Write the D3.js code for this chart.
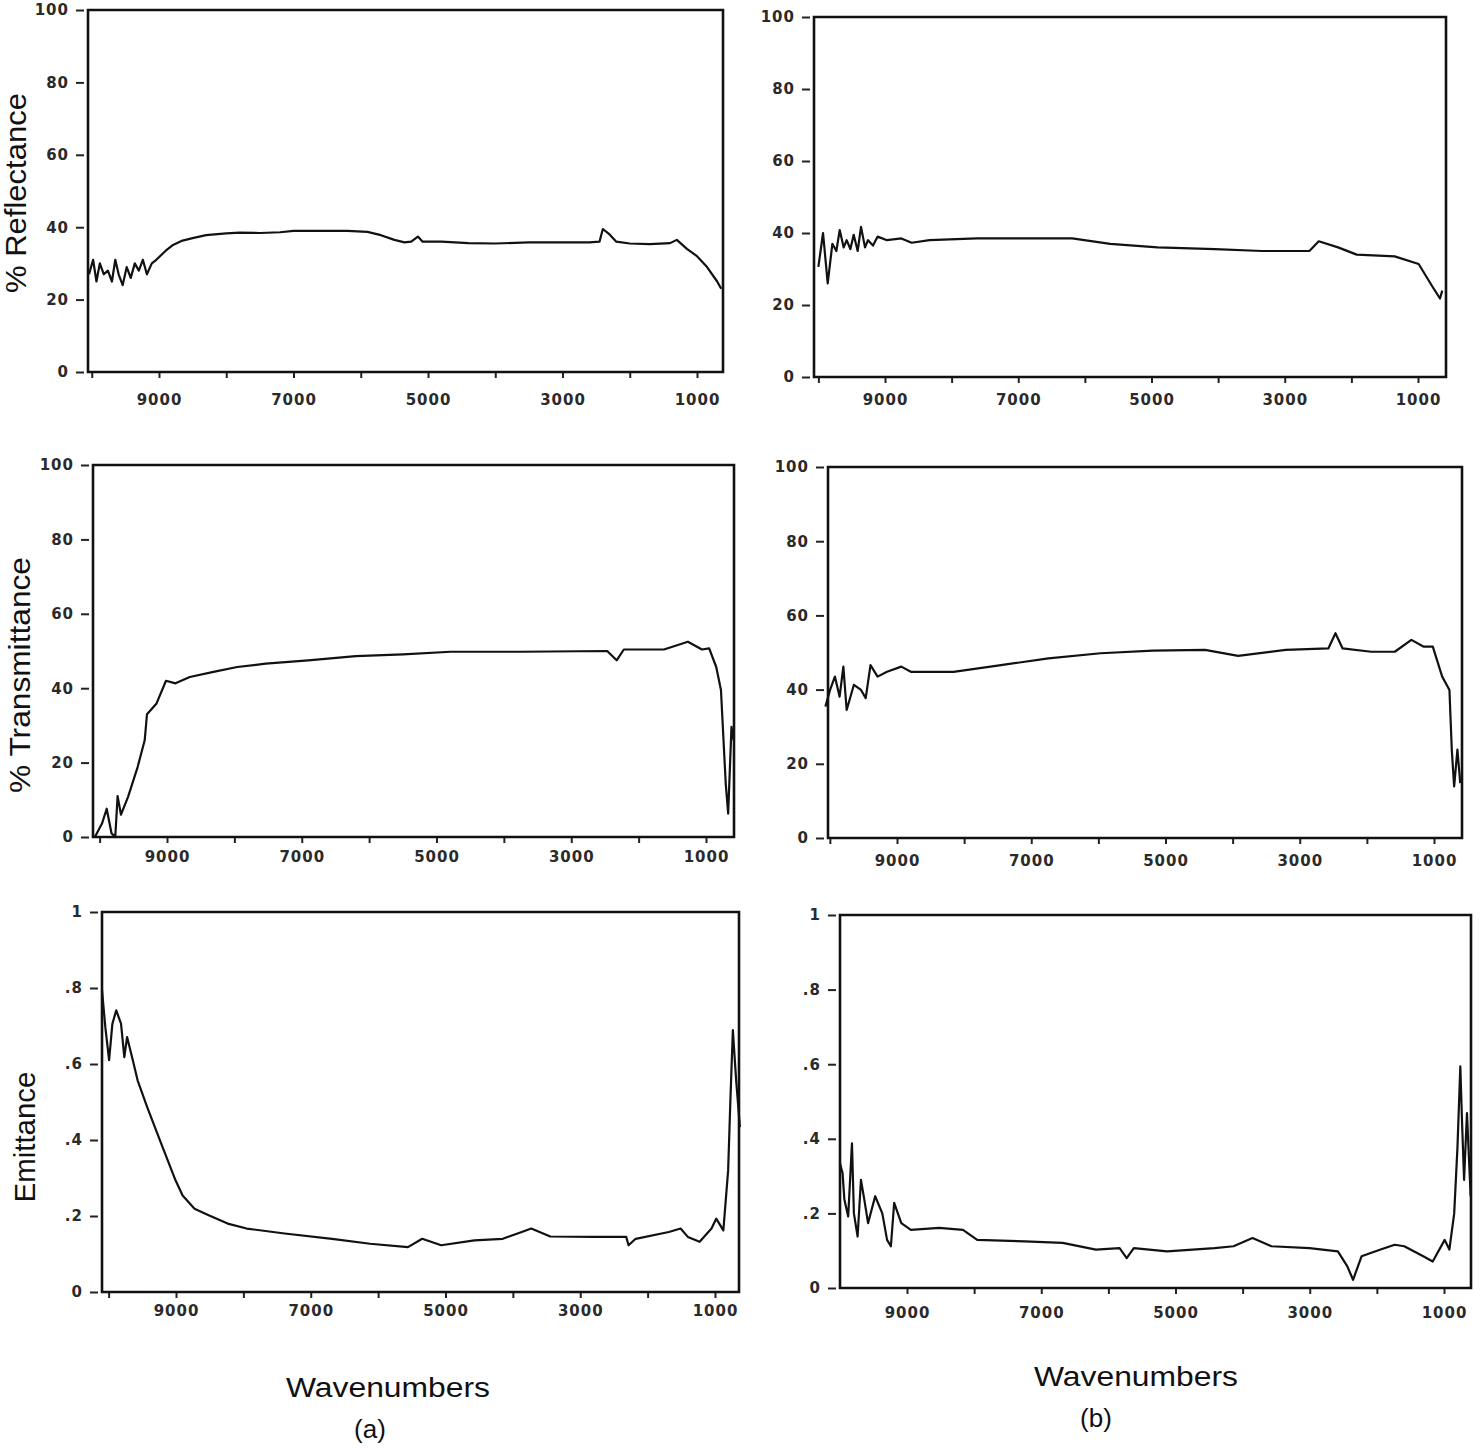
<!DOCTYPE html>
<html>
<head>
<meta charset="utf-8">
<script src="https://cdn.jsdelivr.net/npm/d3@7"></script>
<style>
  body { margin: 0; background: #fff; }
  svg { display: block; }
  .tick text { font-family: "DejaVu Sans", sans-serif; font-weight: bold; font-size: 15px; fill: #2a2a2a; letter-spacing: 1px; }
  .tick line { stroke: #222; stroke-width: 2; }
  .title { font-family: "Liberation Sans", Arial, sans-serif; fill: #111; }
</style>
</head>
<body>
<svg id="chart" width="1480" height="1448"></svg>
<script>
// ----------------------------------------------
// data: [wavenumber (cm-1), value]
// ----------------------------------------------
const xTickValues = [10000, 9000, 8000, 7000, 6000, 5000, 4000, 3000, 2000, 1000];
const xTickLabels = [9000, 7000, 5000, 3000, 1000];
const pctTicks = [0, 20, 40, 60, 80, 100];
const emitTicks = [0, 0.2, 0.4, 0.6, 0.8, 1];

const reflectanceA = [
  [10040, 27], [9980, 31], [9930, 25], [9880, 30], [9820, 27], [9760, 28], [9700, 25],
  [9650, 31], [9600, 27], [9540, 24], [9480, 29], [9420, 26], [9360, 30], [9300, 28],
  [9240, 31], [9180, 27], [9107, 30], [9040, 31], [8900, 33.5], [8800, 35], [8650, 36.3],
  [8500, 37], [8300, 37.8], [8000, 38.3], [7800, 38.5], [7500, 38.4], [7200, 38.6],
  [7000, 39], [6600, 39], [6200, 39], [5900, 38.7], [5700, 37.8], [5500, 36.5],
  [5350, 35.8], [5250, 36], [5150, 37.4], [5080, 36], [4800, 36], [4400, 35.6],
  [4000, 35.5], [3500, 35.8], [3000, 35.8], [2600, 35.8], [2450, 36], [2400, 39.5],
  [2300, 38], [2200, 36], [2000, 35.5], [1700, 35.3], [1400, 35.6], [1300, 36.5],
  [1150, 34], [1000, 32], [850, 29], [700, 25], [640, 23]
];

const reflectanceB = [
  [10000, 30.6], [9930, 40], [9860, 26], [9790, 37], [9730, 35], [9680, 40.8], [9620, 36],
  [9575, 38], [9520, 35.5], [9470, 39.5], [9410, 35], [9360, 41.7], [9300, 36], [9255, 38],
  [9180, 36.5], [9110, 39], [8970, 38], [8755, 38.5], [8600, 37.3], [8330, 38], [7620, 38.5],
  [6190, 38.5], [5620, 37], [4910, 36], [4050, 35.5], [3340, 35], [2630, 35], [2490, 37.7],
  [2200, 36], [1920, 34], [1350, 33.5], [990, 31.4], [780, 25], [670, 21.8], [636, 24]
];

const transmittanceA = [
  [10070, 0], [9965, 3.6], [9895, 7.6], [9824, 1], [9768, 0], [9733, 11], [9683, 6],
  [9578, 10.8], [9436, 18.8], [9331, 26], [9297, 33], [9155, 35.9], [9015, 42], [8874, 41.3],
  [8662, 43], [8310, 44.4], [7958, 45.7], [7535, 46.6], [6903, 47.5], [6198, 48.6],
  [5495, 49.1], [4790, 49.8], [3734, 49.8], [2467, 50], [2326, 47.5], [2220, 50.4],
  [1624, 50.4], [1269, 52.5], [1060, 50.4], [953, 50.7], [848, 45.7], [778, 39.5],
  [707, 14.3], [671, 6.3], [622, 29.6], [590, 26]
];

const transmittanceB = [
  [10067, 35.4], [9997, 39.9], [9925, 43.5], [9855, 38.1], [9799, 46.2], [9750, 34.5],
  [9642, 41.3], [9536, 39.9], [9466, 37.7], [9395, 46.6], [9289, 43.5], [9149, 44.8],
  [8936, 46.2], [8794, 44.8], [8158, 44.8], [7451, 46.6], [6744, 48.4], [5967, 49.8],
  [5189, 50.5], [4411, 50.7], [3918, 49.1], [3210, 50.7], [2574, 51.1], [2468, 55.2],
  [2361, 51.1], [1937, 50.2], [1584, 50.2], [1337, 53.4], [1159, 51.6], [1018, 51.6],
  [878, 43.5], [770, 39.9], [735, 23.8], [700, 13.9], [651, 23.8], [609, 14.8]
];

const emittanceA = [
  [10098, 0.794], [10049, 0.697], [9993, 0.61], [9944, 0.706], [9887, 0.741], [9816, 0.706],
  [9767, 0.618], [9726, 0.671], [9641, 0.61], [9570, 0.557], [9429, 0.487], [9218, 0.39],
  [9007, 0.294], [8902, 0.254], [8725, 0.219], [8515, 0.202], [8233, 0.18], [7951, 0.167],
  [7388, 0.154], [6683, 0.14], [6120, 0.127], [5557, 0.118], [5346, 0.14], [5064, 0.123],
  [4571, 0.136], [4150, 0.14], [3868, 0.158], [3727, 0.167], [3445, 0.146], [2811, 0.145],
  [2318, 0.145], [2283, 0.123], [2178, 0.14], [1685, 0.158], [1510, 0.167], [1403, 0.145],
  [1228, 0.132], [1052, 0.167], [982, 0.193], [876, 0.162], [805, 0.32], [770, 0.513],
  [735, 0.689], [686, 0.557], [630, 0.434]
];

const emittanceB = [
  [10000, 0.335], [9960, 0.308], [9933, 0.237], [9876, 0.192], [9820, 0.388], [9791, 0.2],
  [9736, 0.138], [9686, 0.29], [9636, 0.237], [9580, 0.174], [9474, 0.246], [9368, 0.2],
  [9297, 0.129], [9240, 0.112], [9191, 0.228], [9085, 0.174], [8943, 0.156], [8520, 0.161],
  [8166, 0.156], [7954, 0.129], [7247, 0.125], [6681, 0.121], [6186, 0.103], [5833, 0.107],
  [5727, 0.08], [5621, 0.107], [5126, 0.098], [4419, 0.107], [4136, 0.112], [3853, 0.134],
  [3571, 0.112], [3004, 0.107], [2581, 0.098], [2440, 0.058], [2355, 0.022], [2228, 0.085],
  [1945, 0.103], [1733, 0.116], [1592, 0.112], [1309, 0.085], [1168, 0.071], [990, 0.129],
  [920, 0.103], [848, 0.2], [799, 0.379], [757, 0.594], [729, 0.433], [701, 0.29],
  [658, 0.469], [603, 0.246]
];

// ----------------------------------------------
// panels + where they sit on the page
// ----------------------------------------------
const panels = [
  { data: reflectanceA, yMax: 100, yTicks: pctTicks, title: "% Reflectance" },
  { data: reflectanceB, yMax: 100, yTicks: pctTicks },
  { data: transmittanceA, yMax: 100, yTicks: pctTicks, title: "% Transmittance" },
  { data: transmittanceB, yMax: 100, yTicks: pctTicks },
  { data: emittanceA, yMax: 1, yTicks: emitTicks, title: "Emittance" },
  { data: emittanceB, yMax: 1, yTicks: emitTicks }
];

// x9 / x1 = pixel of 9000 and 1000 cm-1, left/right = frame edges
const layouts = [
  { left: 88, right: 723, x9: 159, x1: 697, top: 10, bottom: 372, xPad: 16 },
  { left: 814, right: 1446, x9: 885, x1: 1418, top: 17, bottom: 377, xPad: 11 },
  { left: 93, right: 734, x9: 167, x1: 706, top: 465, bottom: 837, xPad: 8 },
  { left: 828, right: 1462, x9: 897, x1: 1434, top: 467, bottom: 838, xPad: 11 },
  { left: 102, right: 739, x9: 176, x1: 715, top: 912, bottom: 1292, xPad: 7 },
  { left: 840, right: 1471, x9: 907, x1: 1444, top: 915, bottom: 1288, xPad: 13 }
];

const titleSpots = [
  { cx: 16, cy: 193, len: 200 },
  null,
  { cx: 20, cy: 675, len: 236 },
  null,
  { cx: 25, cy: 1137, len: 131 },
  null
];

const svg = d3.select("#chart");

const emitFmt = (d) => (d === 0 ? "0" : d === 1 ? "1" : d3.format(".1f")(d).replace(/^0/, ""));

panels.forEach((p, i) => {
  const L = layouts[i];
  const x = d3.scaleLinear().domain([9000, 1000]).range([L.x9, L.x1]);
  const y = d3.scaleLinear().domain([0, p.yMax]).range([L.bottom, L.top]);
  const wLeft = x.invert(L.left);
  const wRight = x.invert(L.right);

  const g = svg.append("g");

  // x axis (ticks only, the frame draws the line)
  const xAxis = d3.axisBottom(x)
    .tickValues(xTickValues.filter((d) => d <= wLeft + 1 && d >= wRight))
    .tickSize(6)
    .tickPadding(L.xPad)
    .tickFormat((d) => (xTickLabels.includes(d) ? d : ""));
  g.append("g")
    .attr("transform", `translate(0,${y(0)})`)
    .call(xAxis)
    .call((s) => s.select(".domain").remove());

  // y axis sits a little left of the frame
  const yAxis = d3.axisLeft(y)
    .tickValues(p.yTicks)
    .tickSize(8)
    .tickPadding(7)
    .tickFormat(p.yMax === 1 ? emitFmt : d3.format("d"));
  g.append("g")
    .attr("transform", `translate(${L.left - 4},0)`)
    .call(yAxis)
    .call((s) => s.select(".domain").remove());

  // frame: 0 and 100 % lines plus the two edges
  const frame = [
    [x(wLeft), y(0)], [x(wLeft), y(p.yMax)],
    [x(wRight), y(p.yMax)], [x(wRight), y(0)]
  ];
  g.append("path")
    .attr("d", d3.line()(frame) + "Z")
    .attr("fill", "none")
    .attr("stroke", "#111")
    .attr("stroke-width", 2.6);

  // spectrum
  g.append("path")
    .datum(p.data)
    .attr("d", d3.line().x((d) => x(d[0])).y((d) => y(d[1])))
    .attr("fill", "none")
    .attr("stroke", "#111")
    .attr("stroke-width", 2.2)
    .attr("stroke-linejoin", "round");

  // y title (left column only)
  const t = titleSpots[i];
  if (p.title && t) {
    svg.append("text")
      .attr("class", "title")
      .attr("transform", `translate(${t.cx},${t.cy}) rotate(-90)`)
      .attr("text-anchor", "middle")
      .attr("dy", "0.36em")
      .attr("font-size", 29)
      .attr("textLength", t.len)
      .attr("lengthAdjust", "spacingAndGlyphs")
      .text(p.title);
  }
});

// bottom captions
const captions = [
  { text: "Wavenumbers", x: 388, y: 1397, size: 27, len: 204 },
  { text: "(a)", x: 370, y: 1438, size: 26 },
  { text: "Wavenumbers", x: 1136, y: 1386, size: 27, len: 204 },
  { text: "(b)", x: 1096, y: 1427, size: 26 }
];
captions.forEach((c) => {
  const el = svg.append("text")
    .attr("class", "title")
    .attr("x", c.x)
    .attr("y", c.y)
    .attr("text-anchor", "middle")
    .attr("font-size", c.size)
    .text(c.text);
  if (c.len) el.attr("textLength", c.len).attr("lengthAdjust", "spacingAndGlyphs");
});
</script>
</body>
</html>
